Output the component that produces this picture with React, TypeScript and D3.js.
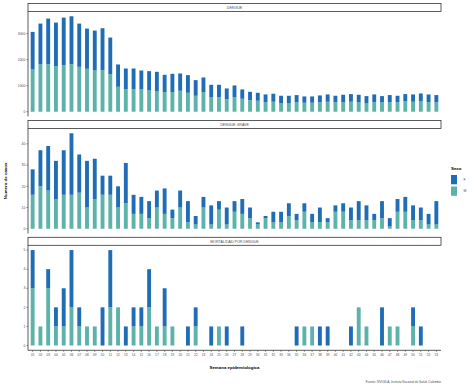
import React from "react";
import * as d3 from "d3";

// Stacked weekly bars (F on top, M below), three stacked facets sharing the week axis.
const weeks = [
  "01", "02", "03", "04", "05", "06", "07", "08", "09", "10",
  "11", "12", "13", "14", "15", "16", "17", "18", "19", "20",
  "21", "22", "23", "24", "25", "26", "27", "28", "29", "30",
  "31", "32", "33", "34", "35", "36", "37", "38", "39", "40",
  "41", "42", "43", "44", "45", "46", "47", "48", "49", "50",
  "51", "52", "53",
];

const dengueM = [
  1622, 1826, 1826, 1750, 1788, 1826, 1724, 1648, 1584, 1596,
  1443, 958, 868, 868, 856, 817, 779, 754, 754, 805,
  728, 613, 754, 562, 562, 485, 562, 498, 447, 421,
  358, 383, 332, 319, 358, 345, 345, 358, 383, 358,
  370, 383, 358, 319, 370, 358, 370, 370, 396, 383,
  396, 370, 358,
];
const dengueF = [
  1443, 1558, 1750, 1673, 1826, 1839, 1660, 1545, 1532, 1610,
  1405, 856, 792, 792, 728, 741, 754, 664, 702, 664,
  677, 600, 561, 472, 472, 409, 447, 358, 319, 307,
  306, 307, 281, 294, 281, 242, 242, 268, 281, 255,
  281, 294, 293, 281, 294, 242, 269, 243, 281, 281,
  306, 294, 281,
];

const graveM = [
  16, 20, 18, 14, 16, 16, 17, 10, 14, 16,
  16, 10, 12, 7, 7, 5, 10, 7, 5, 10,
  3, 2, 10, 2, 9, 2, 8, 7, 5, 2,
  5, 3, 3, 6, 4, 8, 3, 3, 3, 8,
  8, 4, 4, 4, 4, 5, 1, 8, 8, 4,
  4, 2, 2,
];
const graveF = [
  12, 17, 21, 18, 21, 29, 18, 22, 19, 9,
  9, 10, 19, 9, 8, 8, 8, 12, 4, 8,
  10, 4, 5, 9, 4, 8, 5, 7, 5, 1,
  1, 5, 5, 6, 3, 4, 4, 7, 2, 3,
  4, 6, 9, 7, 3, 8, 4, 6, 7, 7,
  6, 5, 11,
];

const mortM = [
  3, 1, 3, 1, 1, 2, 1, 1, 1, 0,
  2, 2, 0, 1, 1, 2, 1, 1, 1, 0,
  0, 1, 0, 0, 1, 0, 0, 0, 0, 0,
  0, 0, 0, 0, 0, 1, 1, 0, 0, 0,
  0, 0, 2, 1, 0, 0, 1, 1, 0, 1,
  0, 0, 0,
];
const mortF = [
  2, 0, 1, 1, 2, 3, 1, 0, 0, 2,
  3, 0, 1, 1, 1, 2, 0, 2, 0, 0,
  1, 1, 0, 1, 0, 1, 0, 1, 0, 0,
  0, 0, 0, 0, 1, 0, 0, 1, 1, 0,
  0, 1, 0, 0, 0, 2, 0, 0, 0, 1,
  1, 0, 0,
];

const dengueTicks = [0, 1000, 2000, 3000];
const graveTicks = [0, 10, 20, 30, 40];
const mortTicks = [0, 1, 2, 3, 4, 5];

const sexes = ["F", "M"];
const colors: Record<string, string> = { F: "#1f6db5", M: "#5db3a9" };

const facets = [
  { title: "DENGUE", F: dengueF, M: dengueM, ticks: dengueTicks, top: 11.5 },
  { title: "DENGUE GRAVE", F: graveF, M: graveM, ticks: graveTicks, top: 128.5 },
  { title: "MORTALIDAD POR DENGUE", F: mortF, M: mortM, ticks: mortTicks, top: 245.3 },
];

const W = 474;
const H = 387;
const left = 28;
const right = 441;
const panelH = 105;
const stripH = 8;
const font = "'Liberation Sans', Arial, sans-serif";

export default function App() {
  const x = d3
    .scaleBand<string>()
    .domain(weeks)
    .range([left, right])
    .paddingInner(0.5)
    .paddingOuter(0.35);

  const panels = facets.map((f, fi) => {
    const totals = weeks.map((_, i) => f.F[i] + f.M[i]);
    const max = d3.max(totals) || 1;
    const pad = max * 0.05;
    const y = d3
      .scaleLinear()
      .domain([-pad, max + pad])
      .range([f.top + panelH, f.top]);

    const rows = weeks.map((w, i) => ({ week: w, F: f.F[i], M: f.M[i] }));
    // F is stacked on top of M, as ggplot does with the first factor level
    const series = d3.stack<any>().keys(["M", "F"])(rows);

    return (
      <g key={fi}>
        <rect
          x={left}
          y={f.top - stripH}
          width={right - left}
          height={stripH}
          fill="#ffffff"
          stroke="#333333"
          strokeWidth={0.8}
        />
        <text
          x={(left + right) / 2}
          y={f.top - stripH / 2}
          dy="0.35em"
          textAnchor="middle"
          fontSize={3.6}
          fill="#4d4d4d"
          fontFamily={font}
        >
          {f.title}
        </text>
        {series.map((s) => (
          <g key={s.key} fill={colors[s.key]}>
            {s.map((d, i) =>
              d[1] - d[0] > 0 ? (
                <rect
                  key={i}
                  x={x(weeks[i])}
                  width={x.bandwidth()}
                  y={y(d[1])}
                  height={y(d[0]) - y(d[1])}
                />
              ) : null
            )}
          </g>
        ))}
        <line
          x1={left}
          x2={left}
          y1={f.top}
          y2={f.top + panelH}
          stroke="#333333"
          strokeWidth={0.8}
        />
        {f.ticks.map((t) => (
          <g key={t} transform={`translate(0,${y(t)})`}>
            <line x1={left - 1.6} x2={left} stroke="#333333" strokeWidth={0.5} />
            <text
              x={left - 2.6}
              dy="0.35em"
              textAnchor="end"
              fontSize={3.4}
              fill="#4d4d4d"
              fontFamily={font}
            >
              {t}
            </text>
          </g>
        ))}
      </g>
    );
  });

  const axisY = facets[2].top + panelH;

  return (
    <svg
      width={W}
      height={H}
      style={{ position: "absolute", left: 0, top: 0, background: "#ffffff" }}
    >
      {panels}
      <line x1={left} x2={right} y1={axisY} y2={axisY} stroke="#333333" strokeWidth={0.8} />
      {weeks.map((w) => {
        const cx = (x(w) || 0) + x.bandwidth() / 2;
        return (
          <g key={w} transform={`translate(${cx},${axisY})`}>
            <line y1={0} y2={1.6} stroke="#333333" strokeWidth={0.5} />
            <text
              y={4.4}
              dy="0.35em"
              textAnchor="middle"
              fontSize={3.2}
              fill="#4d4d4d"
              fontFamily={font}
            >
              {w}
            </text>
          </g>
        );
      })}
      <text
        x={(left + right) / 2}
        y={367}
        dy="0.35em"
        textAnchor="middle"
        fontSize={4.4}
        fontWeight="bold"
        fill="#000000"
        fontFamily={font}
      >
        Semana epidemiologica
      </text>
      <text
        transform={`translate(5,${(facets[0].top + axisY) / 2}) rotate(-90)`}
        dy="0.35em"
        textAnchor="middle"
        fontSize={4.4}
        fontWeight="bold"
        fill="#000000"
        fontFamily={font}
      >
        Numero de casos
      </text>
      <text
        x={451}
        y={168.5}
        dy="0.35em"
        fontSize={4.4}
        fontWeight="bold"
        fill="#000000"
        fontFamily={font}
      >
        Sexo
      </text>
      {sexes.map((s, i) => (
        <g key={s} transform={`translate(451,${175 + i * 11.5})`}>
          <rect width={6} height={9.3} fill={colors[s]} />
          <text
            x={12.5}
            y={4.7}
            dy="0.35em"
            fontSize={3.4}
            fill="#4d4d4d"
            fontFamily={font}
          >
            {s}
          </text>
        </g>
      ))}
      <text
        x={right}
        y={381.5}
        dy="0.35em"
        textAnchor="end"
        fontSize={3}
        fill="#4d4d4d"
        fontFamily={font}
      >
        Fuente: SIVIGILA, Instituto Nacional de Salud, Colombia
      </text>
    </svg>
  );
}
